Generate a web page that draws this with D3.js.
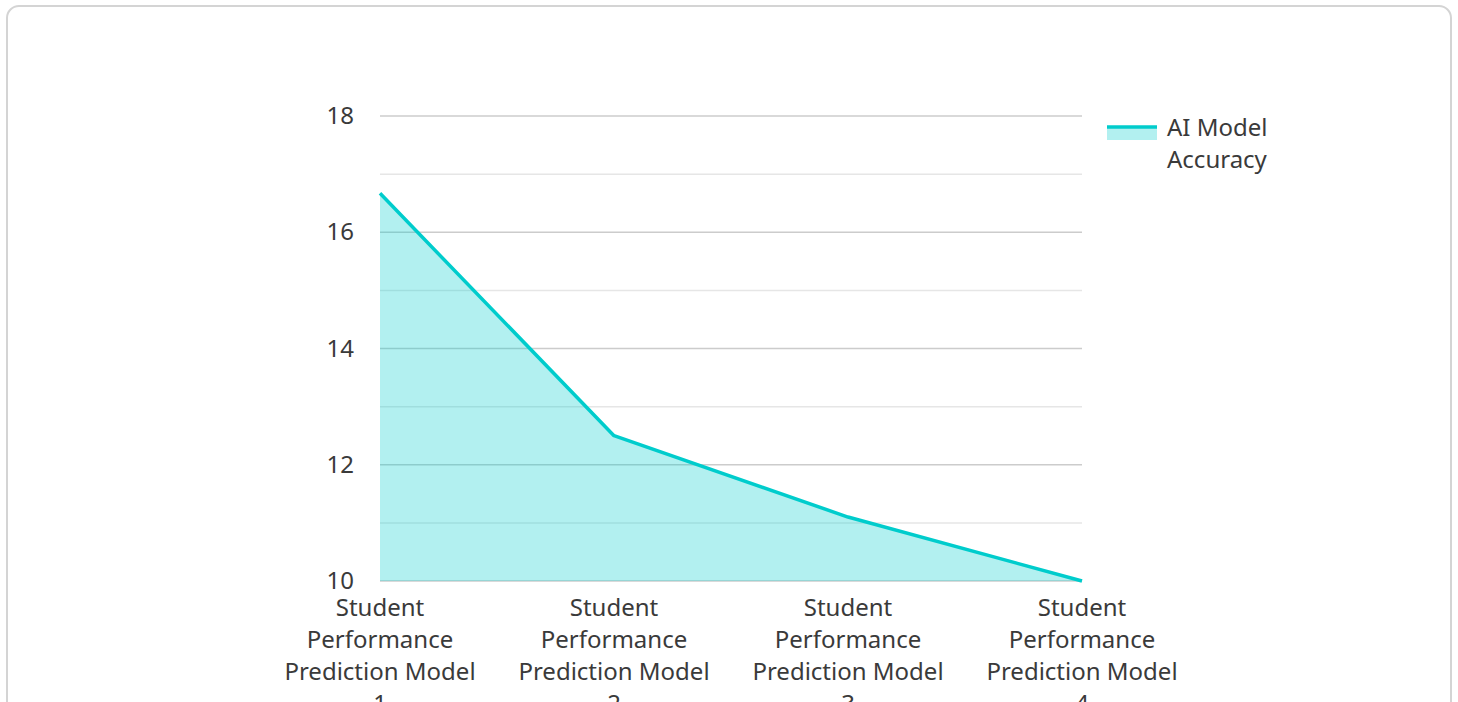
<!DOCTYPE html>
<html>
<head>
<meta charset="utf-8">
<script src="https://cdn.jsdelivr.net/npm/d3@7"></script>
<style>
  html, body { margin: 0; padding: 0; background: #fff; }
  body { width: 1458px; height: 702px; overflow: hidden; font-family: "Noto Sans", "Open Sans", sans-serif; }
</style>
</head>
<body>
<svg id="chart" width="1458" height="702"></svg>
<script>
const categories = [
  "Student Performance Prediction Model 1",
  "Student Performance Prediction Model 2",
  "Student Performance Prediction Model 3",
  "Student Performance Prediction Model 4"
];
const labelLines = [
  ["Student", "Performance", "Prediction Model", "1"],
  ["Student", "Performance", "Prediction Model", "2"],
  ["Student", "Performance", "Prediction Model", "3"],
  ["Student", "Performance", "Prediction Model", "4"]
];
const accuracy = [16.67, 12.5, 11.1, 10];
const yTicks = [10, 12, 14, 16, 18];
const yMinorTicks = [11, 13, 15, 17];
const seriesName = ["AI Model", "Accuracy"];

const svg = d3.select("#chart");
const textColor = "#3a3a3a";
const lineColor = "#00cccc";
const fillColor = "rgba(0,204,204,0.3)";
const font = "'Noto Sans', 'Open Sans', sans-serif";
const fs = 24;

// card
svg.append("rect")
  .attr("x", 7).attr("y", 6)
  .attr("width", 1444).attr("height", 720)
  .attr("rx", 12).attr("ry", 12)
  .attr("fill", "#fff")
  .attr("stroke", "#d4d4d4").attr("stroke-width", 2);

const x = d3.scalePoint().domain(categories).range([380, 1082]);
const y = d3.scaleLinear().domain([10, 18]).range([581, 116]);

// minor gridlines
svg.append("g").selectAll("line").data(yMinorTicks).join("line")
  .attr("x1", 380).attr("x2", 1082)
  .attr("y1", d => y(d)).attr("y2", d => y(d))
  .attr("stroke", "#e6e6e6").attr("stroke-width", 1.5);

// major gridlines
svg.append("g").selectAll("line").data(yTicks).join("line")
  .attr("x1", 380).attr("x2", 1082)
  .attr("y1", d => y(d)).attr("y2", d => y(d))
  .attr("stroke", "#cccccc").attr("stroke-width", 1.5);

// y axis labels
const yAxis = d3.axisLeft(y).tickValues(yTicks).tickSize(0).tickPadding(26);
const gy = svg.append("g").attr("transform", "translate(380,0)").call(yAxis);
gy.select(".domain").remove();
gy.selectAll("text")
  .attr("font-family", font)
  .attr("font-size", fs).attr("fill", textColor);

// area + line
const pts = categories.map((c, i) => [x(c), y(accuracy[i])]);
const area = d3.area().x(d => d[0]).y0(y(10)).y1(d => d[1]);
svg.append("path").datum(pts).attr("d", area).attr("fill", fillColor);
const line = d3.line().x(d => d[0]).y(d => d[1]);
svg.append("path").datum(pts).attr("d", line)
  .attr("fill", "none").attr("stroke", lineColor).attr("stroke-width", 3.5)
  .attr("stroke-linejoin", "round");

// x labels
const gx = svg.append("g");
categories.forEach((c, i) => {
  const t = gx.append("text")
    .attr("x", x(c)).attr("y", 616)
    .attr("text-anchor", "middle")
    .attr("font-family", font)
    .attr("font-size", fs).attr("fill", textColor);
  labelLines[i].forEach((l, j) => {
    t.append("tspan").attr("x", x(c)).attr("dy", j === 0 ? 0 : 32).text(l);
  });
});

// legend
const lg = svg.append("g");
lg.append("rect").attr("x", 1107).attr("y", 127).attr("width", 50).attr("height", 13).attr("fill", fillColor);
lg.append("line").attr("x1", 1107).attr("x2", 1157).attr("y1", 127).attr("y2", 127)
  .attr("stroke", lineColor).attr("stroke-width", 3.5);
const lt = lg.append("text").attr("x", 1167).attr("y", 136)
  .attr("font-family", font)
  .attr("font-size", fs).attr("fill", textColor);
seriesName.forEach((s, j) => {
  lt.append("tspan").attr("x", 1167).attr("dy", j === 0 ? 0 : 32).text(s);
});
</script>
</body>
</html>
